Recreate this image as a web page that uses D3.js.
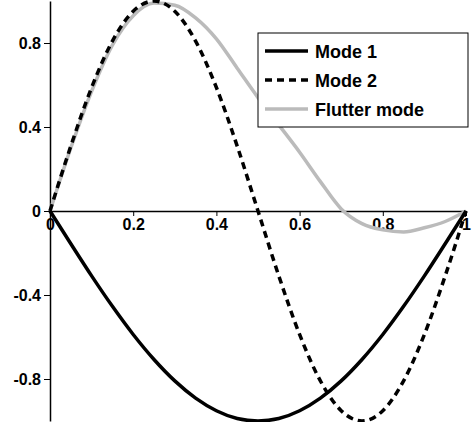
<!DOCTYPE html><html><head><meta charset="utf-8"><script src="https://cdn.jsdelivr.net/npm/d3@7"></script>
<style>body{margin:0;background:#fff}text{font-family:"Liberation Sans",Arial,sans-serif;font-weight:bold}</style></head><body>
<script>
const xs=[0,.05,.1,.15,.2,.25,.3,.35,.4,.45,.5,.55,.6,.65,.7,.75,.8,.85,.9,.95,1];
const mode1=[0,-.156,-.309,-.454,-.588,-.707,-.809,-.891,-.951,-.988,-1,-.988,-.951,-.891,-.809,-.707,-.588,-.454,-.309,-.156,0];
const mode2=[0,.309,.588,.809,.951,1,.951,.809,.588,.309,0,-.309,-.588,-.809,-.951,-1,-.951,-.809,-.588,-.309,0];
const flutter=[0,.3,.57,.79,.93,.99,.98,.92,.82,.68,.54,.41,.28,.14,.01,-.06,-.09,-.1,-.08,-.05,0];
const xTicks=[0,.2,.4,.6,.8,1], yTicks=[-.8,-.4,0,.4,.8];
const names=["Mode 1","Mode 2","Flutter mode"];
const W=474,H=422;
const svg=d3.select("body").append("svg").attr("width",W).attr("height",H);
const x=d3.scaleLinear().domain([0,1]).range([50,466]);
const y=d3.scaleLinear().domain([-1,1]).range([421,1]);
const ya=svg.append("g").attr("transform","translate(50,0)").call(d3.axisLeft(y).tickValues(yTicks).tickFormat(d=>d===0?"0":String(d)).tickSizeOuter(0));
ya.select(".domain").attr("stroke-width",1.5);
ya.selectAll("text").attr("font-size",16).attr("fill","#000");
const xa=svg.append("g").attr("transform",`translate(0,${y(0)})`).call(d3.axisBottom(x).tickValues(xTicks).tickFormat(d=>String(d)).tickSize(5).tickSizeOuter(0));
xa.select(".domain").attr("stroke-width",1.5);
xa.selectAll("text").attr("font-size",16).attr("fill","#000");
const line=d3.line().curve(d3.curveMonotoneX);
const series=[{v:mode1,c:"#000",d:null},{v:mode2,c:"#000",d:"7,5"},{v:flutter,c:"#bbbbbb",d:null}];
series.slice().reverse().forEach(s=>{
 svg.append("path").attr("d",line(xs.map((t,i)=>[x(t),y(s.v[i])]))).attr("fill","none").attr("stroke",s.c).attr("stroke-width",3.5).attr("stroke-dasharray",s.d);
});
const lg=svg.append("g").attr("transform","translate(258,33)");
lg.append("rect").attr("width",210).attr("height",94).attr("fill","#fff").attr("stroke","#000").attr("stroke-width",1);
series.forEach((s,i)=>{
 const yy=18+i*29;
 lg.append("line").attr("x1",7).attr("x2",50).attr("y1",yy).attr("y2",yy).attr("stroke",s.c).attr("stroke-width",3.5).attr("stroke-dasharray",s.d);
 lg.append("text").attr("x",57).attr("y",yy+7).attr("font-size",18).text(names[i]);
});
</script></body></html>
